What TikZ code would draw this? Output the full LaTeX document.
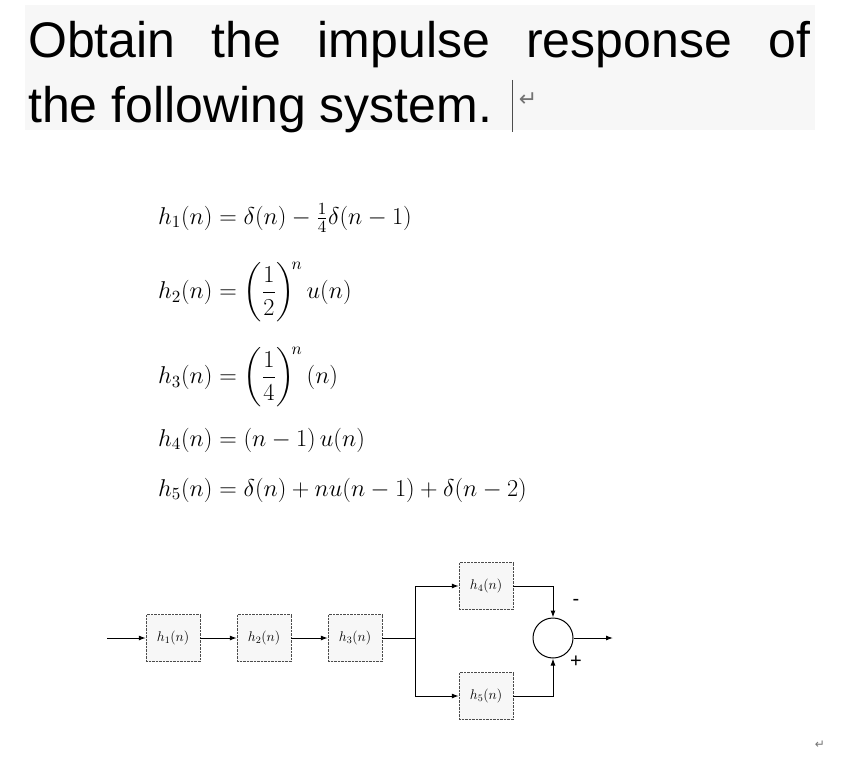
\documentclass[tikz,border=0pt]{standalone}
\usepackage{fix-cm}
\usepackage{amsmath}
\usepackage{fontspec}
\setmainfont{Liberation Sans}
\newfontfamily\djv{DejaVu Sans}
\usetikzlibrary{arrows.meta}
\begin{document}
\begin{tikzpicture}[x=1pt,y=-1pt,
  blk/.style={draw=black!70,densely dotted,fill=black!3,minimum width=54pt,minimum height=47pt,inner sep=0pt,font=\fontsize{14}{16}\selectfont},
  sig/.style={line width=1pt,-{Latex[length=7pt,width=5pt]}},
  wire/.style={line width=1pt},
  eq/.style={anchor=west,inner sep=0pt,font=\fontsize{17}{20}\selectfont}]
\useasboundingbox (0,0) rectangle (868,765);
\fill[black!3] (25,5) rectangle (815,130);
\node[anchor=base west,inner sep=0pt,font=\fontsize{50}{56}\selectfont] (t1) at (28,58) {\hbox to 782pt{Obtain\hfill the\hfill impulse\hfill response\hfill of}};
\node[anchor=base west,inner sep=0pt,font=\fontsize{50}{56}\selectfont] (t2) at (28,123) {the following system.};
\draw[black!70] (512,80) -- (512,132);
\node[inner sep=0pt,text=black!55,font=\djv\fontsize{22}{22}\selectfont] (r1) at (528,100) {↵};
\node[inner sep=0pt,text=black!55,font=\djv\fontsize{12}{12}\selectfont] (r2) at (820,745) {↵};
\node[eq] (e1) at (158,218) {\scalebox{1.43}{$h_1(n)=\delta(n)-\tfrac{1}{4}\delta(n-1)$}};
\node[eq] (e2) at (158,292) {\scalebox{1.43}{$\displaystyle h_2(n)=\left(\frac{1}{2}\right)^{\!n}u(n)$}};
\node[eq] (e3) at (158,377) {\scalebox{1.43}{$\displaystyle h_3(n)=\left(\frac{1}{4}\right)^{\!n}(n)$}};
\node[eq] (e4) at (158,440) {\scalebox{1.43}{$h_4(n)=(n-1)\,u(n)$}};
\node[eq] (e5) at (158,490) {\scalebox{1.43}{$h_5(n)=\delta(n)+nu(n-1)+\delta(n-2)$}};
\node[blk] (b1) at (173,638) {$h_1(n)$};
\node[blk] (b2) at (264,638) {$h_2(n)$};
\node[blk] (b3) at (355,638) {$h_3(n)$};
\node[blk] (b4) at (486,586) {$h_4(n)$};
\node[blk] (b5) at (486,696) {$h_5(n)$};
\node[draw,line width=1pt,circle,minimum size=40pt,inner sep=0pt] (s) at (553,638) {};
\coordinate (in) at (107,638);
\coordinate (j) at (415,638);
\coordinate (out) at (613,638);
\draw[sig] (in) -- (b1);
\draw[sig] (b1) -- (b2);
\draw[sig] (b2) -- (b3);
\draw[wire] (b3) -- (j);
\draw[sig] (j) |- (b4.west);
\draw[sig] (j) |- (b5.west);
\draw[sig] (b4.east) -| (s.north);
\draw[sig] (b5.east) -| (s.south);
\draw[sig] (s) -- (out);
\node[font=\fontsize{20}{20}\selectfont] (mi) at (576,602) {-};
\node[font=\fontsize{20}{20}\selectfont] (pl) at (576,662) {+};
\end{tikzpicture}
\end{document}
